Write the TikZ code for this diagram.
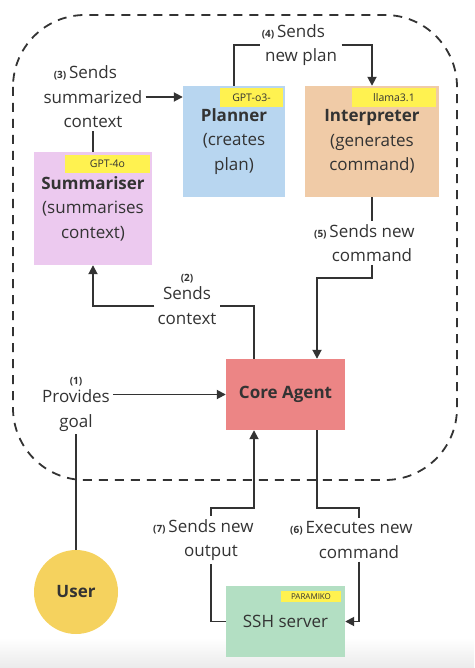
\documentclass[tikz,border=0pt]{standalone}
\usepackage{fontspec}
\setmainfont{Open Sans}
\usetikzlibrary{arrows.meta,positioning}
\definecolor{ink}{HTML}{333333}
\definecolor{plancol}{HTML}{B8D6F0}
\definecolor{intpcol}{HTML}{F0CBA7}
\definecolor{sumcol}{HTML}{ECC9EF}
\definecolor{corecol}{HTML}{EC8585}
\definecolor{sshcol}{HTML}{B3DFC3}
\definecolor{usercol}{HTML}{F5D25E}
\definecolor{tagcol}{HTML}{FFF250}
\newcommand{\stepno}[1]{{\fontsize{10}{12}\selectfont\bfseries #1}}

\begin{document}
\begin{tikzpicture}[x=1pt,y=-1pt,
    every node/.style={text=ink,font=\fontsize{17}{24.5}\selectfont},
    box/.style={inner sep=0pt,align=center},
    tag/.style={fill=tagcol,inner sep=0pt,minimum height=19pt,font=\fontsize{10.5}{12}\selectfont},
    lbl/.style={align=center,inner sep=3pt},
    conn/.style={draw=ink,line width=1.8pt},
    arr/.style={conn,-{Triangle[length=9pt,width=9pt]}}]
    \useasboundingbox (0,0) rectangle (474,668);
    \fill[top color=white,bottom color=black!8,draw=none] (0,638) rectangle (474,668);
    % outer agent boundary
    \draw[ink,line width=1.8pt,dash pattern=on 9pt off 7pt,rounded corners=72pt] (13,15) rectangle (457,480);
    % boxes
    \node[box,fill=plancol,minimum width=102pt,minimum height=111pt] (plan) at (234,141.5) {\textbf{Planner}\\(creates\\plan)};
    \node[box,fill=intpcol,minimum width=134pt,minimum height=111pt] (intp) at (372,141.5) {\textbf{Interpreter}\\(generates\\command)};
    \node[box,fill=sumcol,minimum width=118pt,minimum height=113pt] (sum) at (93,208.5) {\textbf{Summariser}\\(summarises\\context)};
    \node[box,fill=corecol,minimum width=119pt,minimum height=71pt] (core) at (285.5,394.5) {\textbf{Core Agent}};
    \node[box,fill=sshcol,minimum width=119pt,minimum height=71pt] (ssh) at (285.5,621.5) {SSH server};
    \node[circle,fill=usercol,minimum size=84pt,inner sep=0pt] (user) at (76,592) {\textbf{User}};
    % model tags
    \node[tag,minimum width=63pt,anchor=north east] (t1) at ([shift={(-2,2)}]plan.north east) {GPT-o3-};
    \node[tag,minimum width=84pt,anchor=north east] (t2) at ([shift={(-3,2)}]intp.north east) {llama3.1};
    \node[tag,minimum width=85pt,minimum height=18pt,anchor=north east] (t3) at ([shift={(-2,3)}]sum.north east) {GPT-4o};
    \node[tag,minimum width=60pt,minimum height=11pt,font=\fontsize{8}{9}\selectfont,anchor=north east] (t4) at ([shift={(-4,5)}]ssh.north east) {PARAMIKO};
    % step labels
    \node[lbl] (l1) at (76,404) {\stepno{(1)}\\[-6pt]Provides\\goal};
    \node[lbl] (l2) at (187,299) {\stepno{(2)}\\[-6pt]Sends\\context};
    \node[lbl] (l3) at (93,97) {\llap{\stepno{(3)}\,}Sends\\summarized\\context};
    \node[lbl,inner sep=4.5pt] (l4) at (301,45) {\llap{\stepno{(4)}\,}Sends\\new plan};
    \node[lbl] (l5) at (372,243) {\llap{\stepno{(5)}\,}Sends new\\command};
    \node[lbl] (l6) at (359,540) {\llap{\stepno{(6)}\,}Executes new\\command};
    \node[lbl] (l7) at (211,540) {\llap{\stepno{(7)}\,}Sends new\\output};
    \coordinate (a2) at (254,306);
    \coordinate (a5) at (317,278);
    \coordinate (a6) at (317,508);
    \coordinate (a7) at (254,508);
    % connectors
    \draw[conn] (user.north) -- (l1.south);
    \draw[arr] (l1.east |- core.west) -- (core.west);
    \draw[conn] (a2 |- core.north) -- (a2) -- (a2 -| l2.east);
    \draw[arr] (a2 -| l2.west) -| (sum.south);
    \draw[conn] (sum.north) -- (l3.south);
    \draw[arr] (l3.east) -- (l3.east -| plan.west);
    \draw[conn] (plan.north) |- (l4.west);
    \draw[arr] (l4.east) -| (intp.north);
    \draw[conn] (intp.south) -- (l5.north);
    \draw[arr] (l5.south) |- (a5) -- (a5 |- core.north);
    \draw[conn] (a6 |- core.south) -- (a6) -| (l6.north);
    \draw[arr] (l6.south) |- (ssh.east);
    \draw[conn] (ssh.west) -| (l7.south);
    \draw[arr] (l7.north) |- (a7) -- (a7 |- core.south);
\end{tikzpicture}
\end{document}
